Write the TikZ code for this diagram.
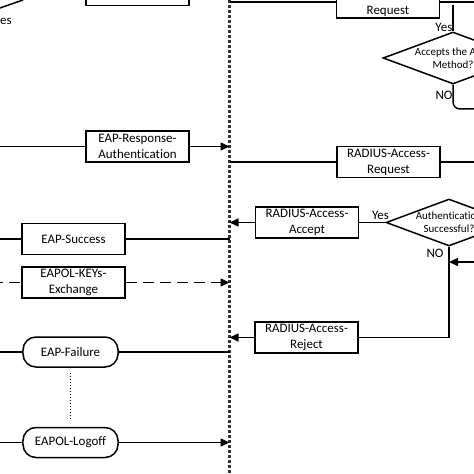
\documentclass[tikz,border=0pt]{standalone}
\usepackage{fontspec}
\setmainfont{Carlito}[Ligatures=NoCommon]
\usetikzlibrary{arrows.meta,shapes.geometric,calc}
\tikzset{
  msg/.style={draw, fill=white, line width=1.5bp, align=center, minimum width=103bp, minimum height=31bp, inner sep=1bp, font=\fontsize{13}{16}\selectfont},
  pill/.style={msg, rounded corners=13bp, minimum width=95bp, minimum height=30bp},
  decision/.style={draw, diamond, line width=1.5bp, align=center, inner sep=0pt, font=\fontsize{11}{13}\selectfont},
  lbl/.style={font=\fontsize{13}{15}\selectfont, inner sep=0pt},
  flow/.style={line width=1.5bp},
  arrowed/.style={-{Triangle[length=9bp,width=8bp]}},
  bus/.style={line width=2.3bp, dash pattern=on 3bp off 2bp, black!80},
}

\begin{document}
\begin{tikzpicture}[x=1bp, y=-1bp]
  \useasboundingbox (0,0) rectangle (474,474);
  \clip (0,0) rectangle (474,474);

  \coordinate (left_edge) at (0,0);
  \coordinate (right_edge) at (474,0);
  \coordinate (bus_top) at (229.5,0);
  \coordinate (bus_bot) at (229.5,474);

  % the dashed line between the two sides
  \draw[bus] (bus_top) -- (bus_bot);

  % cut off at the top
  \coordinate (prev_a) at (0,8);
  \coordinate (prev_b) at (23,0);
  \draw[flow] (prev_a) -- (prev_b);
  \node[lbl] at (6,21) (yes_prev) {es};
  \node at (137.5,-10) [msg] (prev_box) {};

  \node at (388,2) [msg] (radius_req0) {\rule{0pt}{11.5bp}\\Request};
  \draw[flow] (radius_req0.west -| bus_top) -- (radius_req0.west);
  \draw[flow] (radius_req0.east) -- (radius_req0.east -| right_edge);

  \node at (453,58) [decision, minimum width=140bp, minimum height=52bp, aspect=2.7] (acc_method) {Accepts the Auth\\Method?};
  \coordinate (yes_in) at (453,5);
  \draw[flow] (yes_in) -- (acc_method.north);
  \node[lbl, anchor=east] at (452.5,27) (yes_meth) {Yes};
  \coordinate (no_out) at (474,109);
  \draw[flow, rounded corners=7bp] (acc_method.south) |- (no_out);
  \node[lbl] at (444,95) (no_meth) {NO};

  % supplicant side
  \node at (137.5,146.5) [msg] (eap_resp) {EAP-Response-\\Authentication};
  \draw[flow] (eap_resp.west -| left_edge) -- (eap_resp.west);
  \draw[flow, arrowed] (eap_resp.east) -- (eap_resp.east -| bus_top);

  \node at (73.5,239) [msg] (eap_succ) {EAP-Success};
  \draw[flow] (eap_succ.west -| left_edge) -- (eap_succ.west);
  \draw[flow] (eap_succ.east) -- (eap_succ.east -| bus_top);

  \node at (73.5,282.5) [msg] (eapol_keys) {EAPOL-KEYs-\\Exchange};
  \draw[flow, dash pattern=on 11bp off 6bp, dash phase=8bp] (eapol_keys.west -| left_edge) -- (eapol_keys.west);
  \draw[flow, arrowed, dash pattern=on 11bp off 6bp] (eapol_keys.east) -- (eapol_keys.east -| bus_top);

  \node at (70.5,352) [pill] (eap_fail) {EAP-Failure};
  \draw[flow] (eap_fail.west -| left_edge) -- (eap_fail.west);
  \draw[flow] (eap_fail.east) -- (eap_fail.east -| bus_top);

  \node at (70.5,442.5) [pill] (eapol_logoff) {EAPOL-Logoff};
  \draw[flow] (eapol_logoff.west -| left_edge) -- (eapol_logoff.west);
  \draw[flow, arrowed] (eapol_logoff.east) -- (eapol_logoff.east -| bus_top);

  \draw[flow, dash pattern=on 1.5bp off 1.5bp, shorten <=5bp, shorten >=6bp] (eap_fail.south) -- (eapol_logoff.north);

  % server side
  \node at (388.5,162) [msg] (radius_req) {RADIUS-Access-\\Request};
  \draw[flow] (radius_req.west -| bus_top) -- (radius_req.west);
  \draw[flow] (radius_req.east) -- (radius_req.east -| right_edge);

  \node at (449,222.5) [decision, minimum width=126bp, minimum height=47bp, aspect=2.68] (auth_ok) {Authentication\\Successful?};
  \node at (307,222.5) [msg] (radius_acc) {RADIUS-Access-\\Accept};
  \draw[flow] (auth_ok.west) -- (radius_acc.east);
  \draw[flow, arrowed] (radius_acc.west) -- (radius_acc.west -| bus_top);
  \node[lbl] at (380.5,215) (yes_auth) {Yes};
  \node[lbl] at (435,253) (no_auth) {NO};

  \node at (306.5,337.5) [msg] (radius_rej) {RADIUS-Access-\\Reject};
  \draw[flow] (auth_ok.south) |- (radius_rej.east);
  \draw[flow, arrowed] (radius_rej.west) -- (radius_rej.west -| bus_top);

  \coordinate (retry_in) at (474,262);
  \draw[flow, arrowed] (retry_in) -- (retry_in -| auth_ok.south);
\end{tikzpicture}
\end{document}
